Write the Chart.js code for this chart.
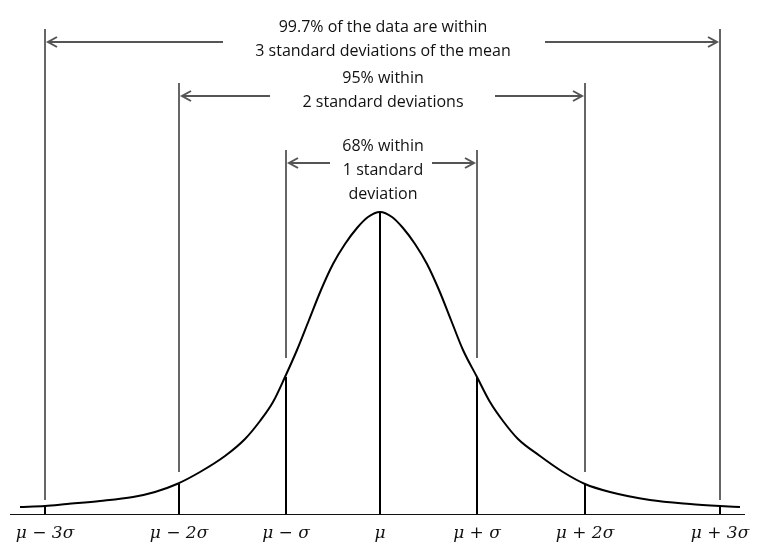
<!DOCTYPE html>
<html>
<head>
<meta charset="utf-8">
<script src="https://cdn.jsdelivr.net/npm/chart.js@4.4.0/dist/chart.umd.min.js"></script>
<style>
  html, body { margin: 0; padding: 0; background: #fff; }
  #wrap { width: 768px; height: 555px; }
</style>
</head>
<body>
<div id="wrap"><canvas id="c"></canvas></div>
<script>
// Curve: horizontal position and height above the baseline
const curveX = [20, 45, 67, 100, 133, 155, 177, 200, 225, 245, 260, 273, 285, 297, 309, 321, 333, 345, 357, 368, 380,
                392, 403, 415, 427, 439, 451, 463, 477, 490, 503, 518, 540, 563, 585, 610, 650, 690, 720, 740];
const curveY = [8, 9, 11, 14, 18, 23, 31, 43, 59, 76, 94, 113, 138, 165, 195, 225, 251, 271, 287, 298, 303,
                298, 287, 271, 251, 225, 195, 165, 138, 113, 94, 76, 59, 43, 31, 23, 15, 11, 9, 8];

// Sigma markers
const sigmaLabels = ['\u03bc \u2212 3\u03c3', '\u03bc \u2212 2\u03c3', '\u03bc \u2212 \u03c3', '\u03bc',
                     '\u03bc + \u03c3', '\u03bc + 2\u03c3', '\u03bc + 3\u03c3'];
const sigmaX = [45, 179, 286, 380, 477, 585, 720];
const curveAtSigma = [9, 31, 138, 303, 138, 31, 9];
const guideTop = [486, 432, 365, 0, 365, 432, 486];   // upper gray guide tops
const guideGapBottom = [15, 43, 157, 0, 157, 43, 15]; // where gray guides stop

// Annotations: bracket level, left/right text gap ends, text lines
const bracketY = [473, 419, 352];
const bracketGap = [[223, 545], [270, 495], [330, 432]];
const bracketLines = [
  ['99.7% of the data are within', '3 standard deviations of the mean'],
  ['95% within', '2 standard deviations'],
  ['68% within', '1 standard', 'deviation']
];
const textTop = [496, 445, 377];

const datasets = [{
  data: curveX.map((x, i) => ({ x, y: curveY[i] })),
  borderColor: '#000', borderWidth: 2, pointRadius: 0, cubicInterpolationMode: 'monotone'
}, {
  data: [{ x: 10, y: 0 }, { x: 745, y: 0 }],
  borderColor: '#111', borderWidth: 2, pointRadius: 0
}];
sigmaX.forEach((x, i) => {
  datasets.push({ data: [{ x, y: 0 }, { x, y: curveAtSigma[i] }], borderColor: '#000', borderWidth: 2, pointRadius: 0 });
  if (i !== 3) {
    datasets.push({ data: [{ x, y: guideGapBottom[i] }, { x, y: guideTop[i] }], borderColor: '#666', borderWidth: 2, pointRadius: 0 });
  }
});

const annotate = {
  id: 'annotate',
  afterDatasetsDraw(chart) {
    const { ctx, scales: { x, y } } = chart;
    ctx.save();
    ctx.strokeStyle = '#555';
    ctx.lineWidth = 2;
    bracketY.forEach((lvl, i) => {
      const py = y.getPixelForValue(lvl);
      const l = x.getPixelForValue(sigmaX[i]) + 3;
      const r = x.getPixelForValue(sigmaX[6 - i]) - 3;
      const gl = x.getPixelForValue(bracketGap[i][0]);
      const gr = x.getPixelForValue(bracketGap[i][1]);
      ctx.beginPath();
      ctx.moveTo(l, py); ctx.lineTo(gl, py);
      ctx.moveTo(gr, py); ctx.lineTo(r, py);
      ctx.stroke();
      ctx.beginPath();
      ctx.moveTo(l + 9, py - 5); ctx.lineTo(l, py); ctx.lineTo(l + 9, py + 5);
      ctx.moveTo(r - 9, py - 5); ctx.lineTo(r, py); ctx.lineTo(r - 9, py + 5);
      ctx.stroke();
    });
    ctx.fillStyle = '#111';
    ctx.font = '16px "Open Sans", sans-serif';
    ctx.textAlign = 'center';
    ctx.textBaseline = 'top';
    bracketLines.forEach((lines, i) => {
      lines.forEach((t, j) => {
        ctx.fillText(t, x.getPixelForValue(383), y.getPixelForValue(textTop[i]) + j * 24);
      });
    });
    ctx.font = 'italic 17px "DejaVu Serif", serif';
    sigmaLabels.forEach((t, i) => {
      ctx.fillText(t, x.getPixelForValue(sigmaX[i]), y.getPixelForValue(0) + 10);
    });
    ctx.restore();
  }
};

new Chart(document.getElementById('c'), {
  type: 'line',
  data: { datasets },
  options: {
    responsive: true, maintainAspectRatio: false, animation: false,
    layout: { padding: { top: 0, bottom: 40, left: 0, right: 0 } },
    plugins: { legend: { display: false }, tooltip: { enabled: false } },
    scales: {
      x: { type: 'linear', display: false, min: 0, max: 768 },
      y: { display: false, min: 0, max: 515 }
    }
  },
  plugins: [annotate]
});
</script>
</body>
</html>
